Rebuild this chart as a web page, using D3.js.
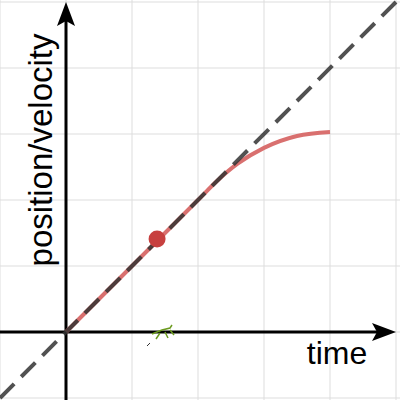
<!DOCTYPE html>
<html><head><meta charset="utf-8">
<script src="https://cdn.jsdelivr.net/npm/d3@7"></script>
<style>body{margin:0;background:#fff}</style></head>
<body><svg id="c" width="400" height="400"></svg>
<script>
const gridTicks = [-1, 0, 1, 2, 3, 4, 5];
const curveX = [0, 1, 2, 2.3, 2.6, 3, 3.5, 4];
const curveY = [0, 1, 2, 2.3, 2.55, 2.79, 2.97, 3.03];
const dotX = [1.38], dotY = [1.41];
const dashX = [-1, 5.1], dashY = [-1, 5.1];

const svg = d3.select('#c');
const x = d3.scaleLinear().domain([0, 1]).range([66, 132]);
const y = d3.scaleLinear().domain([0, 1]).range([332, 266]);

// grid
svg.selectAll('.gx').data(gridTicks).join('line')
  .attr('x1', d => x(d)).attr('x2', d => x(d)).attr('y1', 0).attr('y2', 400)
  .attr('stroke', '#ddd').attr('stroke-width', 1);
svg.selectAll('.gy').data(gridTicks).join('line')
  .attr('y1', d => y(d)).attr('y2', d => y(d)).attr('x1', 0).attr('x2', 400)
  .attr('stroke', '#ddd').attr('stroke-width', 1);

// axes
svg.append('line').attr('x1', 0).attr('x2', 380).attr('y1', y(0)).attr('y2', y(0))
  .attr('stroke', '#000').attr('stroke-width', 3);
svg.append('line').attr('x1', x(0)).attr('x2', x(0)).attr('y1', 400).attr('y2', 20)
  .attr('stroke', '#000').attr('stroke-width', 3);
svg.append('path').attr('d', `M396,${y(0)} L372,${y(0) - 9} L377,${y(0)} L372,${y(0) + 9} Z`).attr('fill', '#000');
svg.append('path').attr('d', `M${x(0)},2 L${x(0) - 9},26 L${x(0)},21 L${x(0) + 9},26 Z`).attr('fill', '#000');

// red curve
const line = d3.line().x(d => x(d[0])).y(d => y(d[1])).curve(d3.curveMonotoneX);
svg.append('path').datum(d3.zip(curveX, curveY)).attr('d', line)
  .attr('fill', 'none').attr('stroke', '#d9706f').attr('stroke-width', 4);

// dashed y = x
svg.append('path').datum(d3.zip(dashX, dashY)).attr('d', d3.line().x(d => x(d[0])).y(d => y(d[1])))
  .attr('fill', 'none').attr('stroke', '#333').attr('stroke-opacity', 0.85)
  .attr('stroke-width', 4).attr('stroke-dasharray', '20,10');

// dot
svg.selectAll('.dot').data(d3.zip(dotX, dotY)).join('circle')
  .attr('cx', d => x(d[0])).attr('cy', d => y(d[1])).attr('r', 8.5).attr('fill', '#c7403f');

// tiny mantis
const m = svg.append('g').attr('stroke', '#6b9a1f').attr('fill', 'none').attr('stroke-width', 1.5);
m.append('path').attr('d', 'M152,334 L162,330 L170,328 L172,325');
m.append('path').attr('d', 'M160,333 L156,339 M165,332 L168,338 M170,330 L174,335');
svg.append('path').attr('d', 'M150,343 L147,346').attr('stroke', '#333').attr('stroke-width', 1);

// labels
svg.append('text').attr('x', 337).attr('y', 364).attr('text-anchor', 'middle')
  .attr('font-family', 'Arial, Liberation Sans, sans-serif').attr('font-size', 32).text('time');
svg.append('text').attr('transform', 'translate(52,150) rotate(-90)').attr('text-anchor', 'middle')
  .attr('font-family', 'Arial, Liberation Sans, sans-serif').attr('font-size', 33).text('position/velocity');
</script></body></html>
